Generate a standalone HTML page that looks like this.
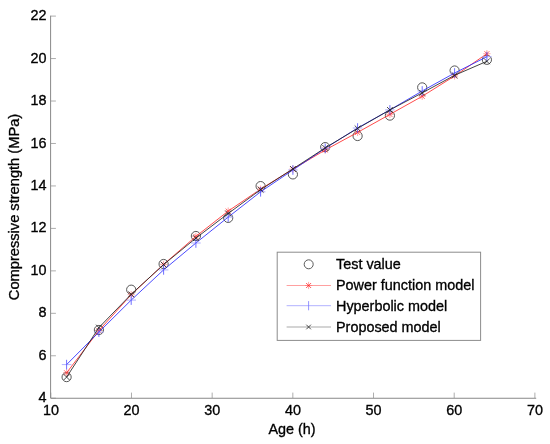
<!DOCTYPE html><html><head><meta charset="utf-8"><title>Compressive strength vs Age</title><style>html,body{margin:0;padding:0;background:#fff}svg{display:block}text{font-family:"Liberation Sans",Arial,sans-serif;fill:#000;stroke:#000;stroke-width:0.32px}</style></head><body>
<svg width="550" height="444" viewBox="0 0 550 444">
<rect width="550" height="444" fill="#fff"/>
<g stroke="#adadad" stroke-width="1" fill="none">
<path d="M51 16.10 H55.9"/>
<path d="M51 58.56 H55.9"/>
<path d="M51 101.02 H55.9"/>
<path d="M51 143.48 H55.9"/>
<path d="M51 185.94 H55.9"/>
<path d="M51 228.40 H55.9"/>
<path d="M51 270.86 H55.9"/>
<path d="M51 313.32 H55.9"/>
<path d="M51 355.78 H55.9"/>
<path d="M51 398.24 H55.9"/>
<path d="M50.80 398 V392.6"/>
<path d="M131.48 398 V392.6"/>
<path d="M212.16 398 V392.6"/>
<path d="M292.84 398 V392.6"/>
<path d="M373.52 398 V392.6"/>
<path d="M454.20 398 V392.6"/>
<path d="M534.88 398 V392.6"/>
</g>
<path d="M50.6 15.6 V398.25 H536.2" stroke="#888888" stroke-width="1" fill="none"/>
<g font-size="14.4px">
<text x="46.5" y="20.2" text-anchor="end">22</text>
<text x="46.5" y="62.6" text-anchor="end">20</text>
<text x="46.5" y="105.1" text-anchor="end">18</text>
<text x="46.5" y="147.5" text-anchor="end">16</text>
<text x="46.5" y="190.0" text-anchor="end">14</text>
<text x="46.5" y="232.4" text-anchor="end">12</text>
<text x="46.5" y="274.8" text-anchor="end">10</text>
<text x="46.5" y="317.3" text-anchor="end">8</text>
<text x="46.5" y="359.7" text-anchor="end">6</text>
<text x="46.5" y="402.2" text-anchor="end">4</text>
<text x="50.9" y="414.6" text-anchor="middle">10</text>
<text x="131.6" y="414.6" text-anchor="middle">20</text>
<text x="212.3" y="414.6" text-anchor="middle">30</text>
<text x="292.9" y="414.6" text-anchor="middle">40</text>
<text x="373.6" y="414.6" text-anchor="middle">50</text>
<text x="454.3" y="414.6" text-anchor="middle">60</text>
<text x="535.0" y="414.6" text-anchor="middle">70</text>
<text x="292" y="433.7" text-anchor="middle">Age (h)</text>
<text transform="translate(18.7,207) rotate(-90)" text-anchor="middle" font-size="14.65px">Compressive strength (MPa)</text>
</g>
<circle cx="66.6" cy="377.1" r="4.6" stroke="#444" stroke-width="0.9" fill="none"/>
<circle cx="98.9" cy="330.0" r="4.6" stroke="#444" stroke-width="0.9" fill="none"/>
<circle cx="131.2" cy="289.7" r="4.6" stroke="#444" stroke-width="0.9" fill="none"/>
<circle cx="163.6" cy="264.0" r="4.6" stroke="#444" stroke-width="0.9" fill="none"/>
<circle cx="195.9" cy="236.0" r="4.6" stroke="#444" stroke-width="0.9" fill="none"/>
<circle cx="228.2" cy="217.9" r="4.6" stroke="#444" stroke-width="0.9" fill="none"/>
<circle cx="260.6" cy="186.1" r="4.6" stroke="#444" stroke-width="0.9" fill="none"/>
<circle cx="292.9" cy="174.4" r="4.6" stroke="#444" stroke-width="0.9" fill="none"/>
<circle cx="325.2" cy="147.1" r="4.6" stroke="#444" stroke-width="0.9" fill="none"/>
<circle cx="357.6" cy="136.0" r="4.6" stroke="#444" stroke-width="0.9" fill="none"/>
<circle cx="389.9" cy="115.6" r="4.6" stroke="#444" stroke-width="0.9" fill="none"/>
<circle cx="422.2" cy="87.4" r="4.6" stroke="#444" stroke-width="0.9" fill="none"/>
<circle cx="454.6" cy="70.5" r="4.6" stroke="#444" stroke-width="0.9" fill="none"/>
<circle cx="486.9" cy="59.8" r="4.6" stroke="#444" stroke-width="0.9" fill="none"/>
<polyline points="66.6,372.8 98.9,330.6 131.2,294.7 163.6,264.4 195.9,236.4 228.2,211.1 260.6,189.1 292.9,169.1 325.2,150.0 357.6,132.4 389.9,114.4 422.2,96.3 454.6,76.0 486.9,53.7" fill="none" stroke="#ff2a2a" stroke-width="0.85"/>
<path d="M63.0 372.8h7.2M66.6 369.2v7.2" stroke="#ff6a6a" stroke-width="0.6" fill="none"/><path d="M64.1 370.3l5.0 5.0M64.1 375.3l5.0 -5.0" stroke="#ff3030" stroke-width="0.75" fill="none"/>
<path d="M95.3 330.6h7.2M98.9 327.0v7.2" stroke="#ff6a6a" stroke-width="0.6" fill="none"/><path d="M96.4 328.1l5.0 5.0M96.4 333.1l5.0 -5.0" stroke="#ff3030" stroke-width="0.75" fill="none"/>
<path d="M127.6 294.7h7.2M131.2 291.1v7.2" stroke="#ff6a6a" stroke-width="0.6" fill="none"/><path d="M128.7 292.2l5.0 5.0M128.7 297.2l5.0 -5.0" stroke="#ff3030" stroke-width="0.75" fill="none"/>
<path d="M160.0 264.4h7.2M163.6 260.8v7.2" stroke="#ff6a6a" stroke-width="0.6" fill="none"/><path d="M161.1 261.9l5.0 5.0M161.1 266.9l5.0 -5.0" stroke="#ff3030" stroke-width="0.75" fill="none"/>
<path d="M192.3 236.4h7.2M195.9 232.8v7.2" stroke="#ff6a6a" stroke-width="0.6" fill="none"/><path d="M193.4 233.9l5.0 5.0M193.4 238.9l5.0 -5.0" stroke="#ff3030" stroke-width="0.75" fill="none"/>
<path d="M224.6 211.1h7.2M228.2 207.5v7.2" stroke="#ff6a6a" stroke-width="0.6" fill="none"/><path d="M225.7 208.6l5.0 5.0M225.7 213.6l5.0 -5.0" stroke="#ff3030" stroke-width="0.75" fill="none"/>
<path d="M257.0 189.1h7.2M260.6 185.5v7.2" stroke="#ff6a6a" stroke-width="0.6" fill="none"/><path d="M258.1 186.6l5.0 5.0M258.1 191.6l5.0 -5.0" stroke="#ff3030" stroke-width="0.75" fill="none"/>
<path d="M289.3 169.1h7.2M292.9 165.5v7.2" stroke="#ff6a6a" stroke-width="0.6" fill="none"/><path d="M290.4 166.6l5.0 5.0M290.4 171.6l5.0 -5.0" stroke="#ff3030" stroke-width="0.75" fill="none"/>
<path d="M321.6 150.0h7.2M325.2 146.4v7.2" stroke="#ff6a6a" stroke-width="0.6" fill="none"/><path d="M322.7 147.5l5.0 5.0M322.7 152.5l5.0 -5.0" stroke="#ff3030" stroke-width="0.75" fill="none"/>
<path d="M354.0 132.4h7.2M357.6 128.8v7.2" stroke="#ff6a6a" stroke-width="0.6" fill="none"/><path d="M355.1 129.9l5.0 5.0M355.1 134.9l5.0 -5.0" stroke="#ff3030" stroke-width="0.75" fill="none"/>
<path d="M386.3 114.4h7.2M389.9 110.8v7.2" stroke="#ff6a6a" stroke-width="0.6" fill="none"/><path d="M387.4 111.9l5.0 5.0M387.4 116.9l5.0 -5.0" stroke="#ff3030" stroke-width="0.75" fill="none"/>
<path d="M418.6 96.3h7.2M422.2 92.7v7.2" stroke="#ff6a6a" stroke-width="0.6" fill="none"/><path d="M419.7 93.8l5.0 5.0M419.7 98.8l5.0 -5.0" stroke="#ff3030" stroke-width="0.75" fill="none"/>
<path d="M450.9 76.0h7.2M454.6 72.4v7.2" stroke="#ff6a6a" stroke-width="0.6" fill="none"/><path d="M452.1 73.5l5.0 5.0M452.1 78.5l5.0 -5.0" stroke="#ff3030" stroke-width="0.75" fill="none"/>
<path d="M483.3 53.7h7.2M486.9 50.1v7.2" stroke="#ff6a6a" stroke-width="0.6" fill="none"/><path d="M484.4 51.2l5.0 5.0M484.4 56.2l5.0 -5.0" stroke="#ff3030" stroke-width="0.75" fill="none"/>
<polyline points="66.6,364.6 98.9,332.1 131.2,300.1 163.6,269.9 195.9,243.0 228.2,217.1 260.6,191.8 292.9,170.0 325.2,148.3 357.6,128.0 389.9,109.9 422.2,91.0 454.6,73.0 486.9,56.7" fill="none" stroke="#2a2aff" stroke-width="0.85"/>
<path d="M61.8 364.6h9.6" stroke="#9c9cff" stroke-width="0.8" fill="none"/><path d="M66.6 359.8v9.6" stroke="#4a4aff" stroke-width="0.8" fill="none"/>
<path d="M94.1 332.1h9.6" stroke="#9c9cff" stroke-width="0.8" fill="none"/><path d="M98.9 327.3v9.6" stroke="#4a4aff" stroke-width="0.8" fill="none"/>
<path d="M126.4 300.1h9.6" stroke="#9c9cff" stroke-width="0.8" fill="none"/><path d="M131.2 295.3v9.6" stroke="#4a4aff" stroke-width="0.8" fill="none"/>
<path d="M158.8 269.9h9.6" stroke="#9c9cff" stroke-width="0.8" fill="none"/><path d="M163.6 265.1v9.6" stroke="#4a4aff" stroke-width="0.8" fill="none"/>
<path d="M191.1 243.0h9.6" stroke="#9c9cff" stroke-width="0.8" fill="none"/><path d="M195.9 238.2v9.6" stroke="#4a4aff" stroke-width="0.8" fill="none"/>
<path d="M223.4 217.1h9.6" stroke="#9c9cff" stroke-width="0.8" fill="none"/><path d="M228.2 212.3v9.6" stroke="#4a4aff" stroke-width="0.8" fill="none"/>
<path d="M255.8 191.8h9.6" stroke="#9c9cff" stroke-width="0.8" fill="none"/><path d="M260.6 187.0v9.6" stroke="#4a4aff" stroke-width="0.8" fill="none"/>
<path d="M288.1 170.0h9.6" stroke="#9c9cff" stroke-width="0.8" fill="none"/><path d="M292.9 165.2v9.6" stroke="#4a4aff" stroke-width="0.8" fill="none"/>
<path d="M320.4 148.3h9.6" stroke="#9c9cff" stroke-width="0.8" fill="none"/><path d="M325.2 143.5v9.6" stroke="#4a4aff" stroke-width="0.8" fill="none"/>
<path d="M352.8 128.0h9.6" stroke="#9c9cff" stroke-width="0.8" fill="none"/><path d="M357.6 123.2v9.6" stroke="#4a4aff" stroke-width="0.8" fill="none"/>
<path d="M385.1 109.9h9.6" stroke="#9c9cff" stroke-width="0.8" fill="none"/><path d="M389.9 105.1v9.6" stroke="#4a4aff" stroke-width="0.8" fill="none"/>
<path d="M417.4 91.0h9.6" stroke="#9c9cff" stroke-width="0.8" fill="none"/><path d="M422.2 86.2v9.6" stroke="#4a4aff" stroke-width="0.8" fill="none"/>
<path d="M449.8 73.0h9.6" stroke="#9c9cff" stroke-width="0.8" fill="none"/><path d="M454.6 68.2v9.6" stroke="#4a4aff" stroke-width="0.8" fill="none"/>
<path d="M482.1 56.7h9.6" stroke="#9c9cff" stroke-width="0.8" fill="none"/><path d="M486.9 51.9v9.6" stroke="#4a4aff" stroke-width="0.8" fill="none"/>
<polyline points="66.6,377.1 98.9,327.6 131.2,294.3 163.6,264.6 195.9,238.1 228.2,213.5 260.6,189.7 292.9,168.9 325.2,147.9 357.6,128.4 389.9,109.9 422.2,92.9 454.6,75.3 486.9,61.3" fill="none" stroke="#222" stroke-width="0.85"/>
<path d="M63.7 374.2l5.8 5.8M63.7 380.0l5.8 -5.8" stroke="#222" stroke-width="0.8" fill="none"/>
<path d="M96.0 324.7l5.8 5.8M96.0 330.5l5.8 -5.8" stroke="#222" stroke-width="0.8" fill="none"/>
<path d="M128.3 291.4l5.8 5.8M128.3 297.2l5.8 -5.8" stroke="#222" stroke-width="0.8" fill="none"/>
<path d="M160.7 261.7l5.8 5.8M160.7 267.5l5.8 -5.8" stroke="#222" stroke-width="0.8" fill="none"/>
<path d="M193.0 235.2l5.8 5.8M193.0 241.0l5.8 -5.8" stroke="#222" stroke-width="0.8" fill="none"/>
<path d="M225.3 210.6l5.8 5.8M225.3 216.4l5.8 -5.8" stroke="#222" stroke-width="0.8" fill="none"/>
<path d="M257.7 186.8l5.8 5.8M257.7 192.6l5.8 -5.8" stroke="#222" stroke-width="0.8" fill="none"/>
<path d="M290.0 166.0l5.8 5.8M290.0 171.8l5.8 -5.8" stroke="#222" stroke-width="0.8" fill="none"/>
<path d="M322.3 145.0l5.8 5.8M322.3 150.8l5.8 -5.8" stroke="#222" stroke-width="0.8" fill="none"/>
<path d="M354.7 125.5l5.8 5.8M354.7 131.3l5.8 -5.8" stroke="#222" stroke-width="0.8" fill="none"/>
<path d="M387.0 107.0l5.8 5.8M387.0 112.8l5.8 -5.8" stroke="#222" stroke-width="0.8" fill="none"/>
<path d="M419.3 90.0l5.8 5.8M419.3 95.8l5.8 -5.8" stroke="#222" stroke-width="0.8" fill="none"/>
<path d="M451.7 72.4l5.8 5.8M451.7 78.2l5.8 -5.8" stroke="#222" stroke-width="0.8" fill="none"/>
<path d="M484.0 58.4l5.8 5.8M484.0 64.2l5.8 -5.8" stroke="#222" stroke-width="0.8" fill="none"/>
<rect x="277.2" y="252.2" width="203.4" height="88.2" fill="#fff" stroke="#8c8c8c" stroke-width="1"/>
<g font-size="14.4px">
<text x="336" y="269.2">Test value</text>
<text x="336" y="290.4">Power function model</text>
<text x="336" y="310.6">Hyperbolic model</text>
<text x="336" y="331.9">Proposed model</text>
</g>
<circle cx="308.7" cy="264.3" r="4.5" stroke="#4a4a4a" stroke-width="0.9" fill="none"/>
<path d="M286.6 285.5H331" stroke="#ffa0a0" stroke-width="1"/>
<path d="M305.0 285.5h7.2M308.6 281.9v7.2" stroke="#ff6a6a" stroke-width="0.6" fill="none"/><path d="M306.1 283.0l5.0 5.0M306.1 288.0l5.0 -5.0" stroke="#ff2020" stroke-width="0.75" fill="none"/>
<path d="M286.6 305.7H331" stroke="#b2b2ff" stroke-width="1"/>
<path d="M308.6 301.09999999999997v9.2" stroke="#7a7aff" stroke-width="0.8"/>
<path d="M286.6 327.0H331" stroke="#c6c6c6" stroke-width="1.6"/>
<path d="M306.3 324.7l4.6 4.6M306.3 329.3l4.6 -4.6" stroke="#222" stroke-width="0.8" fill="none"/>
</svg></body></html>
